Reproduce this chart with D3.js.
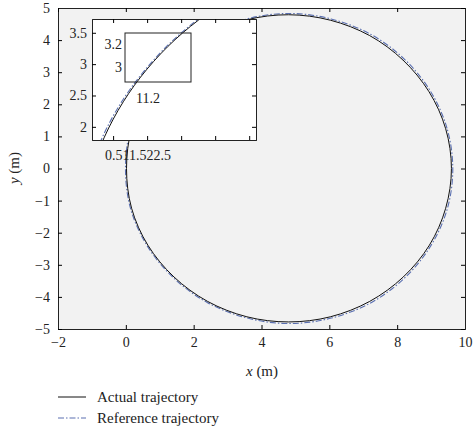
<!DOCTYPE html>
<html><head><meta charset="utf-8">
<script src="https://cdn.jsdelivr.net/npm/d3@7"></script>
<style>body{margin:0;background:#fff}text{font-family:"Liberation Serif",serif;fill:#222}</style>
</head><body><div id="chart"></div>
<script>
// actual trajectory points (x, y)
var actualX = [9.60,9.43,8.94,8.17,7.19,6.03,4.80,3.56,2.40,1.41,0.65,0.17,0.02,0.17,0.65,1.42,2.41,3.57,4.80,6.03,7.19,8.18,8.95,9.43];
var actualY = [0,1.24,2.39,3.38,4.14,4.62,4.79,4.63,4.15,3.39,2.40,1.24,0,-1.24,-2.39,-3.38,-4.14,-4.62,-4.78,-4.62,-4.14,-3.38,-2.39,-1.24];
var refX = [9.64,9.47,8.98,8.21,7.22,6.05,4.82,3.57,2.40,1.40,0.62,0.14,-0.01,0.14,0.63,1.41,2.41,3.58,4.82,6.06,7.23,8.22,8.99,9.48];
var refY = [0,1.25,2.41,3.41,4.18,4.66,4.83,4.66,4.17,3.40,2.39,1.24,0,-1.25,-2.41,-3.41,-4.18,-4.66,-4.83,-4.66,-4.18,-3.41,-2.41,-1.25];
var xTicks = [-2,0,2,4,6,8,10];
var yTicks = [-5,-4,-3,-2,-1,0,1,2,3,4,5];
var insetXTicks = [0.5,1,1.5,2,2.5];
var insetYTicks = [2,2.5,3,3.5];
var legendLabels = ["Actual trajectory","Reference trajectory"];

var width = 474, height = 430;
var svg = d3.select("#chart").append("svg").attr("width", width).attr("height", height);

var x = d3.scaleLinear().domain([-2, 10]).range([58, 465]);
var y = d3.scaleLinear().domain([-5, 5]).range([329, 8]);

function pts(xs, ys) { return xs.map(function(v, i) { return [v, ys[i]]; }); }
var actual = pts(actualX, actualY), reference = pts(refX, refY);

svg.append("rect").attr("x", 58).attr("y", 8).attr("width", 407).attr("height", 321).attr("fill", "#f2f2f2");

function drawCurves(g, sx, sy) {
    var line = d3.line().x(function(d){return sx(d[0]);}).y(function(d){return sy(d[1]);}).curve(d3.curveCardinalClosed);
    g.append("path").attr("d", line(reference)).attr("fill", "none")
        .attr("stroke", "#5a6fb0").attr("stroke-width", 1.1).attr("stroke-dasharray", "6,2,1.5,2");
    g.append("path").attr("d", line(actual)).attr("fill", "none")
        .attr("stroke", "#111").attr("stroke-width", 1);
}
drawCurves(svg.append("g"), x, y);

// main axes
svg.append("g").attr("transform", "translate(0,329)")
    .call(d3.axisBottom(x).tickValues(xTicks).tickSize(-4).tickPadding(8).tickFormat(d3.format("d")));
svg.append("g").attr("transform", "translate(58,0)")
    .call(d3.axisLeft(y).tickValues(yTicks).tickSize(-4).tickPadding(8).tickFormat(d3.format("d")));
svg.append("g").attr("transform", "translate(0,8)").call(d3.axisTop(x).tickValues(xTicks).tickSize(-4).tickFormat(""));
svg.append("g").attr("transform", "translate(465,0)").call(d3.axisRight(y).tickValues(yTicks).tickSize(-4).tickFormat(""));
svg.selectAll(".domain").attr("stroke", "#222");
svg.selectAll(".tick text").style("font-size", "14px").style("font-family", "Liberation Serif, serif");

// inset
var ix = d3.scaleLinear().domain([0.19, 2.6]).range([92, 256]);
var iy = d3.scaleLinear().domain([1.79, 3.72]).range([140, 19]);
svg.append("clipPath").attr("id", "ic").append("rect").attr("x", 92).attr("y", 19).attr("width", 164).attr("height", 121);
svg.append("rect").attr("x", 92).attr("y", 19).attr("width", 164).attr("height", 121).attr("fill", "#fff");
drawCurves(svg.append("g").attr("clip-path", "url(#ic)"), ix, iy);
var ig = svg.append("g");
ig.append("g").attr("transform", "translate(0,140)").call(d3.axisBottom(ix).tickValues(insetXTicks).tickSize(-4).tickFormat(""));
ig.append("g").attr("transform", "translate(0,19)").call(d3.axisTop(ix).tickValues(insetXTicks).tickSize(-4).tickFormat(""));
ig.append("g").attr("transform", "translate(92,0)").call(d3.axisLeft(iy).tickValues(insetYTicks).tickSize(-4).tickPadding(5).tickFormat(d3.format("~g")));
ig.append("g").attr("transform", "translate(256,0)").call(d3.axisRight(iy).tickValues(insetYTicks).tickSize(-4).tickFormat(""));
ig.selectAll(".domain").attr("stroke", "#222");
ig.selectAll(".tick text").style("font-size", "14px").style("font-family", "Liberation Serif, serif");
// crowded x tick labels as in the source figure
ig.append("text").attr("x", 138).attr("y", 160).attr("text-anchor", "middle").style("font-size", "14px")
    .text(insetXTicks.join(""));
// nested zoom box
ig.append("rect").attr("x", 125).attr("y", 33).attr("width", 66).attr("height", 49).attr("fill", "none").attr("stroke", "#222");
ig.append("text").attr("x", 122).attr("y", 49).attr("text-anchor", "end").style("font-size", "14px").text("3.2");
ig.append("text").attr("x", 122).attr("y", 72).attr("text-anchor", "end").style("font-size", "14px").text("3");
ig.append("text").attr("x", 148).attr("y", 103).attr("text-anchor", "middle").style("font-size", "14px").text("11.2");

// axis labels
svg.append("text").attr("x", 262).attr("y", 376).attr("text-anchor", "middle").style("font-size", "15px")
    .html('<tspan font-style="italic">x</tspan> (m)');
svg.append("text").attr("transform", "translate(19,168) rotate(-90)").attr("text-anchor", "middle").style("font-size", "15px")
    .html('<tspan font-style="italic">y</tspan> (m)');

// legend
var lg = svg.append("g");
legendLabels.forEach(function(t, i) {
    var yy = 397 + i * 21;
    lg.append("line").attr("x1", 58).attr("x2", 86).attr("y1", yy).attr("y2", yy)
        .attr("stroke", i ? "#5a6fb0" : "#111").attr("stroke-dasharray", i ? "6,2,1.5,2" : null);
    lg.append("text").attr("x", 97).attr("y", yy + 5).style("font-size", "15px").text(t);
});
</script></body></html>
